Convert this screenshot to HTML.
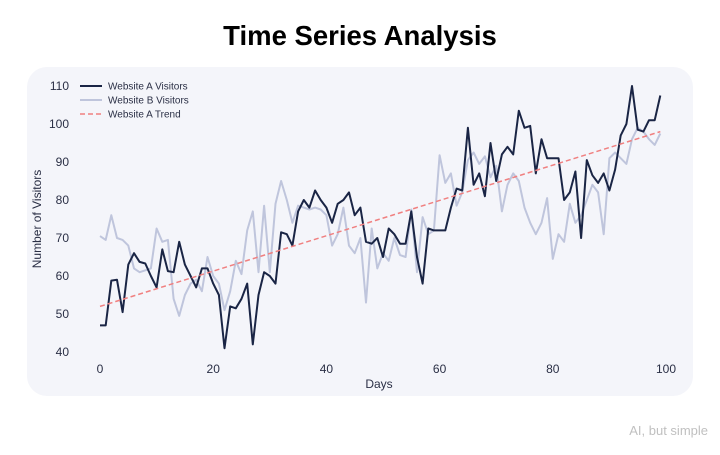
<!DOCTYPE html>
<html><head><meta charset="utf-8"><style>
body{margin:0;background:#fff;width:720px;height:450px;overflow:hidden;font-family:"Liberation Sans",sans-serif}
</style></head><body>
<svg width="720" height="450" xmlns="http://www.w3.org/2000/svg" font-family="Liberation Sans, sans-serif">
<text x="360" y="45" text-anchor="middle" font-size="27.5" font-weight="bold" fill="#000">Time Series Analysis</text>
<rect x="27" y="67" width="666" height="329" rx="20" fill="#f4f5fa"/>
<g font-size="12" fill="#2a2f45" text-anchor="end" id="yt"></g>
<g font-size="12" fill="#2a2f45" text-anchor="middle" id="xt"></g>
<text x="379" y="388" text-anchor="middle" font-size="12" fill="#2a2f45">Days</text>
<text transform="translate(41,219) rotate(-90)" text-anchor="middle" font-size="12" fill="#2a2f45">Number of Visitors</text>
<polyline id="b" fill="none" stroke="#bfc5dc" stroke-width="2" stroke-linejoin="round"/>
<polyline id="a" fill="none" stroke="#1a2545" stroke-width="2" stroke-linejoin="round"/>
<line id="t" stroke="#f08080" stroke-width="1.5" stroke-dasharray="5,3"/>
<g font-size="10" fill="#2a2f45">
<line x1="80" y1="86" x2="102" y2="86" stroke="#1a2545" stroke-width="2"/><text x="108" y="89.5">Website A Visitors</text>
<line x1="80" y1="100" x2="102" y2="100" stroke="#bfc5dc" stroke-width="2"/><text x="108" y="103.5">Website B Visitors</text>
<line x1="80" y1="114" x2="102" y2="114" stroke="#f08080" stroke-width="1.5" stroke-dasharray="5,3"/><text x="108" y="117.5">Website A Trend</text>
</g>
<text x="708" y="435" text-anchor="end" font-size="13" fill="#c0c0c0">AI, but simple</text>
</svg>
<script>
var A=[47,47,58.8,59,50.5,63,66,63.7,63.3,60,57,67,61.3,61,69,63,60,57,62,62,58,55,41,52,51.5,54,58,42,55,61,60,58,71.5,71,68,77,80,78,82.5,80,78,74,79,80,82,76,78,69,68.5,70,65,72.5,71,68.5,68.5,77,65,58,72.5,72,72,72,78,83,82.5,99,84,87,81,95,85,92,94,92,103.5,99,99.5,87,96,91,91,91,80,82,87.5,70,90.5,86.5,84.5,87,82.5,88,97,100,110,98.5,98,101,101,107.5];
var B=[70.5,69.5,76,70,69.5,68,62,61,61.5,62,72.5,69,69.5,54,49.5,55,58,59,56,65,60,58,51,56,64,60.5,72,77,61,78.5,61,79,85,80,74,78.5,78,77.5,78,77.5,76,68,71,78,68,66,70,53,72.5,62,66,64,70,65.5,65,77.5,61,75.5,71,72,91.8,84.5,87,78.5,82,90.5,92.5,89.5,91.5,86,89,77,84,87,85,78,74,71,74,80.5,64.5,71,69,79,74,76,80,84,82,71,91,92.5,91,89.5,96,99,98,96,94.5,97.5];
function X(i){return 100+5.66*i}function Y(v){return 352-(v-40)*3.8}
function P(d){return d.map(function(v,i){return X(i).toFixed(1)+","+Y(v).toFixed(1)}).join(" ")}
document.getElementById('a').setAttribute('points',P(A));
document.getElementById('b').setAttribute('points',P(B));
var t=document.getElementById('t');t.setAttribute('x1',X(0));t.setAttribute('y1',Y(52));t.setAttribute('x2',X(99));t.setAttribute('y2',Y(98));
var ns="http://www.w3.org/2000/svg",yt=document.getElementById('yt'),xt=document.getElementById('xt');
for(var v=40;v<=110;v+=10){var e=document.createElementNS(ns,'text');e.setAttribute('x',69);e.setAttribute('y',Y(v)+4);e.textContent=v;yt.appendChild(e);}
for(var d=0;d<=100;d+=20){var e=document.createElementNS(ns,'text');e.setAttribute('x',X(d));e.setAttribute('y',373);e.textContent=d;xt.appendChild(e);}
</script>
</body></html>
